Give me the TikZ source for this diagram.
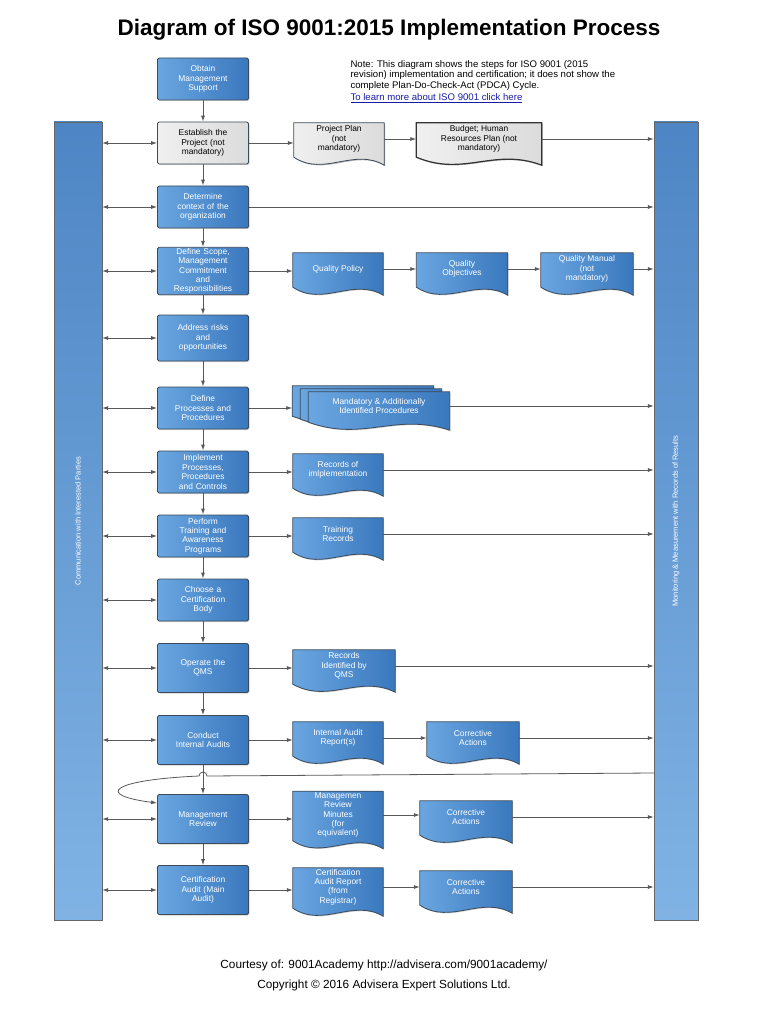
\documentclass[tikz,border=0pt]{standalone}
\usepackage{fontspec}
\setmainfont{Liberation Sans}
\usetikzlibrary{calc,shadows,backgrounds,arrows.meta}
\definecolor{bl}{HTML}{4A8ACF}
\definecolor{bll}{HTML}{6AA6E0}
\definecolor{bld}{HTML}{3A78BE}
\definecolor{edge}{HTML}{3C4A5A}
\definecolor{lnk}{HTML}{1A1AA8}
\tikzset{
  every node/.style={font=\fontsize{8.4}{9.4}\selectfont, align=center},
  mainbox/.style={draw=edge, thick, rounded corners=1.5pt, left color=bll, right color=bld, text=white,
     minimum width=91, minimum height=42, text width=80, inner sep=1pt,
     drop shadow={opacity=0.35,shadow xshift=1pt,shadow yshift=-1pt}},
  graybox/.style={mainbox, left color=gray!12, right color=gray!28, text=black},
  docnode/.style={text=white, minimum width=90, minimum height=32, inner sep=1pt},
  docfill/.style={draw=edge, thick, left color=bll, right color=bld,
     drop shadow={opacity=0.35,shadow xshift=1pt,shadow yshift=-1pt}},
  docgray/.style={docfill, left color=gray!12, right color=gray!28},
  bar/.style={draw=gray!80!black, top color=bld!90, bottom color=bll!85!white, minimum width=48, minimum height=798},
  conn/.style={draw=gray!70!black, line width=0.8pt, -{Latex[length=6pt,width=4pt]}},
  dconn/.style={draw=gray!70!black, line width=0.8pt, {Latex[length=6pt,width=4pt]}-{Latex[length=6pt,width=4pt]}},
}
\newcommand\wavedoc[3][]{%
  \path[docfill,#1] ($(#2.north west)+#3$) -- ($(#2.north east)+#3$) -- ($(#2.south east)+#3+(0,10)$)
   .. controls ($(#2.south)+#3+(15,-8)$) and ($(#2.south)+#3+(-15,22)$) .. ($(#2.south west)+#3+(0,2)$) -- cycle;}
\begin{document}
\begin{tikzpicture}[x=1pt,y=-1pt]
\useasboundingbox (0,0) rectangle (768,1024);
% title
\node[font=\fontsize{22.5}{25}\selectfont\bfseries] (title) at (389,30) {Diagram of ISO 9001:2015 Implementation Process};
\node[anchor=north west, align=left, font=\fontsize{9.6}{10.3}\selectfont] (note) at (347,57)
 {Note: This diagram shows the steps for ISO 9001 (2015\\revision) implementation and certification; it does not show the\\complete Plan-Do-Check-Act (PDCA) Cycle.};
\node[anchor=west, text=lnk, font=\fontsize{9.6}{10.3}\selectfont] (link) at (347,98) {\underline{To learn more about ISO 9001 click here}};
% bars
\node[bar] (lb) at (78,521) {};
\node[bar, minimum width=44] (rb) at (676,521) {};
\node[rotate=90, text=white, font=\fontsize{7.5}{8}\selectfont] (lbt) at (78,521) {Communication with Interested Parties};
\node[rotate=90, text=white, font=\fontsize{7.5}{8}\selectfont] (rbt) at (676,521) {Monitoring \& Measurement with Records of Results};
% main column
\node[mainbox] (m0) at (203,79) {Obtain\\Management\\Support};
\node[graybox] (m1) at (203,143) {Establish the\\Project (not\\mandatory)};
\node[mainbox] (m2) at (203,207) {Determine\\context of the\\organization};
\node[mainbox] (m3) at (203,271) {Define Scope,\\Management\\Commitment\\and\\Responsibilities};
\node[mainbox, minimum height=46] (m4) at (203,338) {Address risks\\and\\opportunities};
\node[mainbox] (m5) at (203,408) {Define\\Processes and\\Procedures};
\node[mainbox] (m6) at (203,472) {Implement\\Processes,\\Procedures\\and Controls};
\node[mainbox] (m7) at (203,536) {Perform\\Training and\\Awareness\\Programs};
\node[mainbox] (m8) at (203,600) {Choose a\\Certification\\Body};
\node[mainbox, minimum height=49] (m9) at (203,668) {Operate the\\QMS};
\node[mainbox, minimum height=49] (m10) at (203,740) {Conduct\\Internal Audits};
\node[mainbox, minimum height=49] (m11) at (203,819) {Management\\Review};
\node[mainbox, minimum height=49] (m12) at (203,890) {Certification\\Audit (Main\\Audit)};
% documents
\node[docnode, text=black] (pp) at (339,139) {Project Plan\\(not\\mandatory)};
\node[docnode, text=black, minimum width=125] (bu) at (479,139) {Budget; Human\\Resources Plan (not\\mandatory)};
\node[docnode] (qp) at (338,269) {Quality Policy};
\node[docnode, minimum width=91] (qo) at (462,269) {Quality\\Objectives};
\node[docnode, minimum width=92] (qm) at (587,269) {Quality Manual\\(not\\mandatory)};
\node[docnode, minimum width=141, minimum height=28] (md) at (379,406) {Mandatory \& Additionally\\Identified Procedures};
\node[docnode] (ri) at (338,470) {Records of\\imlplementation};
\node[docnode] (tr) at (338,534) {Training\\Records};
\node[docnode, minimum width=102] (rq) at (344,666) {Records\\Identified by\\QMS};
\node[docnode] (ia) at (338,738) {Internal Audit\\Report(s)};
\node[docnode, minimum width=92] (ca1) at (473,738) {Corrective\\Actions};
\node[docnode, minimum height=40] (mm) at (338,815) {Managemen\\Review\\Minutes\\(for\\equivalent)};
\node[docnode, minimum width=92] (ca2) at (466,817) {Corrective\\Actions};
\node[docnode] (car) at (338,887) {Certification\\Audit Report\\(from\\Registrar)};
\node[docnode, minimum width=92] (ca3) at (466,887) {Corrective\\Actions};
\begin{scope}[on background layer]
\wavedoc[docgray]{pp}{(0,0)}
\wavedoc[docgray, line width=1.2pt, draw=black!80]{bu}{(0,0)}
\foreach \d in {qp,qo,qm,ri,tr,rq,ia,ca1,mm,ca2,car,ca3} {\wavedoc{\d}{(0,0)}}
\wavedoc{md}{(-16,-6)}
\wavedoc{md}{(-8,-3)}
\wavedoc{md}{(0,0)}
\end{scope}
% vertical flow
\foreach \a/\b in {m0/m1,m1/m2,m2/m3,m3/m4,m4/m5,m5/m6,m6/m7,m7/m8,m8/m9,m9/m10,m11/m12}
  \draw[conn] (\a) -- (\b);
% left bar double arrows
\foreach \m in {m1,m2,m3,m4,m5,m6,m7,m8,m9,m10,m11,m12}
  \draw[dconn] (lb.east |- \m.west) -- (\m.west);
% horizontal chains
\foreach \a/\b in {m1/pp,pp/bu,m3/qp,qp/qo,qo/qm,m6/ri,m7/tr,m9/rq,m10/ia,ia/ca1,m11/mm,mm/ca2,m12/car,car/ca3}
  \draw[conn] (\a.east) -- (\a.east -| \b.west);
\draw[conn] (m5.east) -- ($(m5.east -| md.west)+(-16,0)$);
% to right bar
\foreach \a in {bu,m2,qm,md,ri,tr,rq,ca1,ca2,ca3}
  \draw[conn] (\a.east) -- (\a.east -| rb.west);
% feedback loop
\coordinate (fb) at (rb.west |- 0,773);
\draw[conn] (fb) -- (207,776) arc[start angle=0,end angle=-180,radius=4]
  .. controls (110,780) and (95,795) .. ($(m11.west)+(0,-16)$);
\draw[conn] (m10) -- (m11);
% footer
\node (foot1) at (384,965) {\fontsize{11.8}{13}\selectfont Courtesy of: 9001Academy http://advisera.com/9001academy/};
\node (foot2) at (384,985) {\fontsize{11.8}{13}\selectfont Copyright © 2016 Advisera Expert Solutions Ltd.};
\end{tikzpicture}
\end{document}
